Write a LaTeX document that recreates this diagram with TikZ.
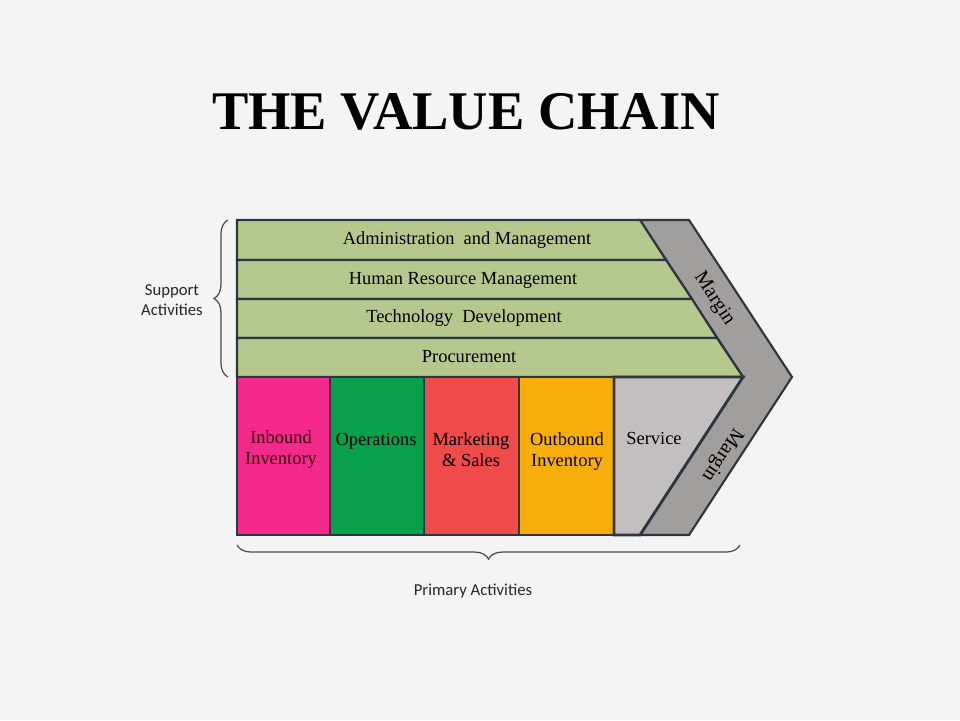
\documentclass[tikz,border=0pt]{standalone}
\usepackage{fontspec}
\setmainfont{Liberation Serif}
\newfontfamily\carl{Carlito}
\usetikzlibrary{decorations.pathreplacing}
\definecolor{bg}{HTML}{F4F4F4}
\definecolor{sup}{HTML}{B5C98E}
\definecolor{mar}{HTML}{A19E9E}
\definecolor{edge}{HTML}{2B3640}
\definecolor{cpink}{HTML}{F5288C}
\definecolor{cgreen}{HTML}{06A14A}
\definecolor{cred}{HTML}{F04B4B}
\definecolor{corange}{HTML}{F7AE0A}
\definecolor{cgray}{HTML}{C3BFC0}
\tikzset{
 sbox/.style={fill=sup,draw=edge,line width=1.2pt},
 pbox/.style={draw=edge,line width=1.6pt},
 lab/.style={font=\fontsize{10.5}{12}\selectfont,align=center},
 mlab/.style={font=\fontsize{11.5}{13}\selectfont},
 brace/.style={decorate,decoration={brace,amplitude=8pt},draw=black!70,line width=0.7pt},
 side/.style={font=\carl\fontsize{9.5}{11}\selectfont,text=black!85,align=center}
}
\begin{document}
\begin{tikzpicture}[x=0.02cm,y=-0.02cm]
\fill[bg] (0,0) rectangle (960,720);
\useasboundingbox (0,0) rectangle (960,720);
\node[font=\bfseries\fontsize{31}{34}\selectfont] (title) at (466,112) {THE VALUE CHAIN};
% margin chevron
\draw[fill=mar,draw=edge,line width=1.2pt] (640,220) -- (689,220) -- (792,377) -- (689,535) -- (640,535) -- (743,377) -- cycle;
% support rows
\draw[sbox] (237,220) -- (640,220) -- (666,260) -- (237,260) -- cycle;
\draw[sbox] (237,260) -- (666,260) -- (692,299) -- (237,299) -- cycle;
\draw[sbox] (237,299) -- (692,299) -- (717,338) -- (237,338) -- cycle;
\draw[sbox] (237,338) -- (717,338) -- (743,377) -- (237,377) -- cycle;
\node[lab] (adm) at (467,240) {Administration\ \ and Management};
\node[lab] (hrm) at (463,280) {Human Resource Management};
\node[lab] (tec) at (464,318) {Technology\ \ Development};
\node[lab] (pro) at (469,357) {Procurement};
% primary
\draw[pbox,fill=cpink] (237,377) rectangle (330,535);
\draw[pbox,fill=cgreen] (330,377) rectangle (424,535);
\draw[pbox,fill=cred] (424,377) rectangle (519,535);
\draw[pbox,fill=corange] (519,377) rectangle (614,535);
\draw[pbox,fill=cgray] (614,377) -- (743,377) -- (640,535) -- (614,535) -- cycle;
\node[lab,text=black!80!red] (inb) at (281,450) {Inbound\\Inventory};
\node[lab] (ope) at (376,441) {Operations};
\node[lab] (mkt) at (471,450) {Marketing\\\& Sales};
\node[lab] (out) at (567,452) {Outbound\\Inventory};
\node[lab] (ser) at (654,438) {Service};
\node[mlab,rotate=-56.7] (m1) at (714,299) {Margin};
\node[mlab,rotate=-123.3] (m2) at (722,455) {Margin};
% braces
\draw[brace] (228,377) -- (228,220);
\node[side] (sa) at (172,300) {Support\\Activities};
\draw[brace] (740,545) -- (237,545);
\node[side] (pa) at (473,591) {Primary Activities};
\end{tikzpicture}
\end{document}
